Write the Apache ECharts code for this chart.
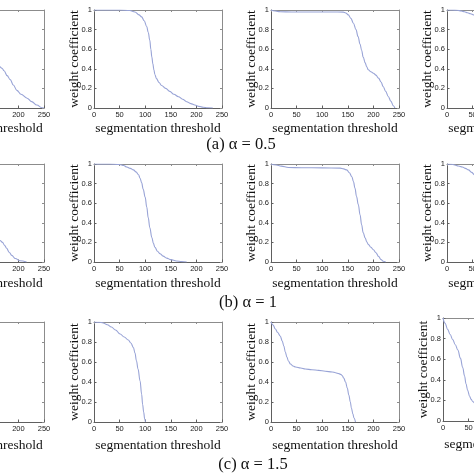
<!DOCTYPE html>
<html>
<head>
<meta charset="utf-8">
<title>weight coefficient vs segmentation threshold</title>
<style>
html,body{margin:0;padding:0;background:#fff;}
#chart{width:474px;height:474px;}
</style>
<script src="https://cdn.jsdelivr.net/npm/echarts@6.0.0/dist/echarts.min.js"></script>
</head>
<body>
<div id="chart"></div>
<script>
// tick labels of every panel
var xTicks = [0, 50, 100, 150, 200, 250];
var yTicks = [0, 0.2, 0.4, 0.6, 0.8, 1];
var captions = ['(a) \u03b1 = 0.5', '(b) \u03b1 = 1', '(c) \u03b1 = 1.5'];

// (a) alpha = 0.5 : threshold / weight pairs
var a1Thr = [158, 164, 168, 172, 178, 184, 190, 197, 205, 217, 226, 236, 246, 250];
var a1W   = [0.44, 0.42, 0.405, 0.38, 0.33, 0.29, 0.235, 0.18, 0.14, 0.10, 0.065, 0.03, 0.003, 0];
var a2Thr = [0, 50, 70, 80, 88, 93, 98, 103, 106, 109, 111, 113, 115, 117, 119, 122, 127, 132, 140, 148, 156, 165, 173, 181, 189, 197, 205, 213, 222, 232];
var a2W   = [1, 1, 0.995, 0.98, 0.95, 0.93, 0.89, 0.83, 0.77, 0.69, 0.6, 0.52, 0.45, 0.39, 0.34, 0.3, 0.26, 0.23, 0.2, 0.17, 0.14, 0.115, 0.09, 0.064, 0.045, 0.03, 0.017, 0.007, 0.002, 0];
var a3Thr = [0, 8, 18, 40, 80, 120, 141, 146, 151, 156, 161, 166, 170, 174, 177, 180, 184, 187, 190, 195, 200, 205, 210, 215, 219, 224, 229, 234, 239, 242];
var a3W   = [1, 0.99, 0.982, 0.98, 0.98, 0.98, 0.978, 0.97, 0.95, 0.915, 0.865, 0.8, 0.73, 0.65, 0.59, 0.52, 0.46, 0.42, 0.39, 0.37, 0.355, 0.335, 0.305, 0.265, 0.22, 0.17, 0.118, 0.07, 0.023, 0];
var a4Thr = [0, 10, 20, 28, 34, 40, 46, 52, 58];
var a4W   = [1, 1, 0.997, 0.99, 0.982, 0.972, 0.962, 0.95, 0.935];

// (b) alpha = 1
var b1Thr = [158, 164, 169, 173, 177, 182, 187, 194, 203, 216];
var b1W   = [0.27, 0.22, 0.2, 0.17, 0.14, 0.10, 0.068, 0.035, 0.012, 0];
var b2Thr = [0, 30, 50, 58, 64, 71, 77, 82, 87, 90, 93, 96, 100, 103, 106, 109, 113, 116, 119, 124, 129, 135, 142, 150, 161, 171, 181];
var b2W   = [1, 1, 0.995, 0.985, 0.97, 0.955, 0.94, 0.92, 0.89, 0.855, 0.81, 0.745, 0.66, 0.56, 0.45, 0.35, 0.25, 0.19, 0.15, 0.11, 0.084, 0.06, 0.04, 0.024, 0.01, 0.004, 0];
var b3Thr = [0, 10, 20, 34, 60, 100, 135, 142, 148, 153, 158, 161, 164, 167, 170.5, 174, 177, 180, 184, 187, 190, 195, 200, 205, 210, 215, 219, 224];
var b3W   = [1, 0.99, 0.978, 0.965, 0.962, 0.96, 0.958, 0.95, 0.94, 0.91, 0.87, 0.82, 0.755, 0.67, 0.585, 0.48, 0.38, 0.3, 0.245, 0.205, 0.18, 0.15, 0.125, 0.095, 0.057, 0.025, 0.008, 0];
var b4Thr = [0, 8, 15, 22, 30, 36, 42, 48, 54, 60];
var b4W   = [1, 0.998, 0.99, 0.98, 0.97, 0.955, 0.94, 0.915, 0.89, 0.86];

// (c) alpha = 1.5 (first panel shows no curve in the visible part)
var c1Thr = [];
var c1W   = [];
var c2Thr = [0, 10, 18, 26, 34, 42, 51, 59, 67, 72, 77, 80, 83, 86, 90, 93, 95, 97, 99, 100.5];
var c2W   = [1, 0.998, 0.99, 0.972, 0.95, 0.92, 0.88, 0.85, 0.82, 0.79, 0.745, 0.69, 0.61, 0.53, 0.41, 0.28, 0.175, 0.1, 0.03, 0];
var c3Thr = [0, 4, 8.5, 13, 18, 22, 25, 28, 31, 34, 38, 43, 48, 58, 67, 80, 93, 106, 119.5, 126, 132.6, 136, 139, 142, 145.6, 149, 152, 155, 157, 160, 162, 165];
var c3W   = [1, 0.97, 0.93, 0.895, 0.86, 0.81, 0.76, 0.7, 0.65, 0.61, 0.58, 0.56, 0.55, 0.54, 0.53, 0.523, 0.516, 0.508, 0.5, 0.493, 0.484, 0.476, 0.465, 0.44, 0.4, 0.34, 0.27, 0.2, 0.14, 0.08, 0.04, 0];
var c4Thr = [0, 4, 9, 14, 19, 24, 29, 34, 38.5, 42, 45, 48, 52, 55, 58, 62, 66];
var c4W   = [1, 0.95, 0.89, 0.84, 0.79, 0.74, 0.69, 0.61, 0.52, 0.44, 0.36, 0.3, 0.24, 0.21, 0.19, 0.175, 0.165];

var panels = [
	[a1Thr, a1W], [a2Thr, a2W], [a3Thr, a3W], [a4Thr, a4W],
	[b1Thr, b1W], [b2Thr, b2W], [b3Thr, b3W], [b4Thr, b4W],
	[c1Thr, c1W], [c2Thr, c2W], [c3Thr, c3W], [c4Thr, c4W]
];

// layout of the 3x4 panel grid (the outer columns are cut by the picture edge)
var colLeft = [-84, 94, 271, 447];
var rowTop = [10, 164, 322];
var rowH = [98, 98, 100];
var plotW = 128;
var xNameGap = [13, 14, 16];
var captionX = [241, 248, 253];
var captionY = [145, 303, 465];

var lineColor = '#98a3d6';
var axisColor = '#5f5f5f';
var boxColor = '#8c8c8c';
var serif = '"Liberation Serif", "Times New Roman", serif';
var sans = '"Liberation Sans", Arial, sans-serif';

function pairs(xs, ys){
	return xs.map(function(x, i){ return [x, ys[i]]; });
}

var option = {
	backgroundColor: '#fff',
	animation: false,
	grid: [], xAxis: [], yAxis: [], series: [],
	graphic: []
};

panels.forEach(function(p, i){
	var row = Math.floor(i / 4), col = i % 4;
	var left = colLeft[col], top = rowTop[row], h = rowH[row];
	// last panel of row (c) sits a little higher and further left
	if (row === 2 && col === 3){ left = 443; top = 318; h = 103; }
	option.grid.push({
		left: left, top: top, width: plotW, height: h,
		outerBoundsMode: 'none', containLabel: false
	});
	var xBase = {
		gridIndex: i, type: 'value',
		min: xTicks[0], max: xTicks[xTicks.length - 1], interval: xTicks[1] - xTicks[0],
		splitLine: {show: false}
	};
	var yBase = {
		gridIndex: i, type: 'value',
		min: yTicks[0], max: yTicks[yTicks.length - 1], interval: yTicks[1] - yTicks[0],
		splitLine: {show: false}
	};
	// bottom axis with labels and name
	option.xAxis.push(Object.assign({}, xBase, {
		position: 'bottom',
		name: 'segmentation threshold', nameLocation: 'middle', nameGap: xNameGap[row],
		nameMoveOverlap: false,
		nameTextStyle: {fontFamily: serif, fontSize: 13.5, color: '#111'},
		axisLine: {onZero: false, lineStyle: {color: axisColor, width: 1}},
		axisTick: {inside: true, length: 2.5, lineStyle: {color: axisColor}},
		axisLabel: {fontFamily: sans, fontSize: 7.5, color: '#222', margin: 3}
	}));
	// top box edge with mirrored ticks
	option.xAxis.push(Object.assign({}, xBase, {
		position: 'top',
		axisLine: {onZero: false, lineStyle: {color: boxColor, width: 1}},
		axisTick: {inside: true, length: 2, lineStyle: {color: boxColor}},
		axisLabel: {show: false}
	}));
	// left axis with labels and name
	option.yAxis.push(Object.assign({}, yBase, {
		position: 'left',
		name: 'weight coefficient', nameLocation: 'middle', nameGap: 13, nameRotate: 90,
		nameMoveOverlap: false,
		nameTextStyle: {fontFamily: serif, fontSize: 13.5, color: '#111'},
		axisLine: {onZero: false, lineStyle: {color: axisColor, width: 1}},
		axisTick: {inside: true, length: 2.5, lineStyle: {color: axisColor}},
		axisLabel: {fontFamily: sans, fontSize: 7.5, color: '#222', margin: 2}
	}));
	// right box edge with mirrored ticks
	option.yAxis.push(Object.assign({}, yBase, {
		position: 'right',
		axisLine: {onZero: false, lineStyle: {color: boxColor, width: 1}},
		axisTick: {inside: true, length: 2, lineStyle: {color: boxColor}},
		axisLabel: {show: false}
	}));
	option.series.push({
		type: 'line',
		xAxisIndex: i * 2, yAxisIndex: i * 2,
		data: pairs(p[0], p[1]),
		showSymbol: false, symbol: 'none',
		smooth: 0.4, smoothMonotone: 'x',
		lineStyle: {color: lineColor, width: 1.1},
		silent: true
	});
});

captions.forEach(function(t, r){
	option.graphic.push({
		type: 'text', x: captionX[r], y: captionY[r],
		style: {
			text: t, fill: '#111', font: '16.5px ' + serif,
			align: 'center', verticalAlign: 'middle'
		}
	});
});

var myChart = echarts.init(document.getElementById('chart'));
myChart.setOption(option);
</script>
</body>
</html>
